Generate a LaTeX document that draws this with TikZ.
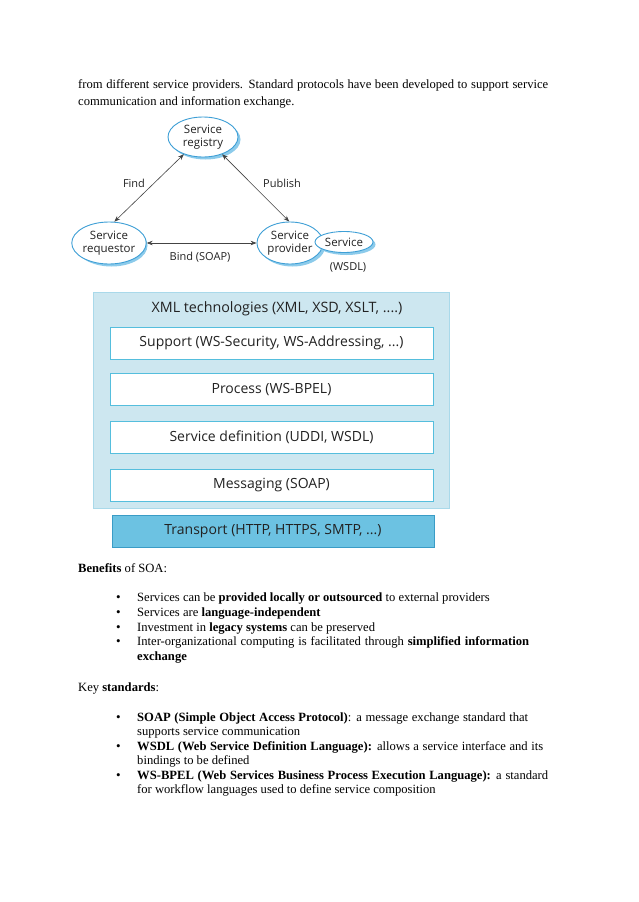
\documentclass[tikz,border=0pt]{standalone}
\usepackage{fontspec}
\setmainfont{Liberation Serif}
\newfontfamily\diagfont{Open Sans}
\usetikzlibrary{shapes.geometric,arrows.meta}
\definecolor{ellblue}{HTML}{3E9FD6}
\definecolor{ellshadow}{HTML}{8CCBEB}
\definecolor{outerfill}{HTML}{CDE7F0}
\definecolor{outerline}{HTML}{A9D9EA}
\definecolor{innerline}{HTML}{55BEDD}
\definecolor{transfill}{HTML}{6CC2E2}
\definecolor{transline}{HTML}{3A9CC6}
\definecolor{arrowgray}{HTML}{444444}
\definecolor{diagtext}{HTML}{222222}
\tikzset{
  ell/.style={ellipse, draw=ellblue, line width=0.9pt, fill=white, inner sep=0pt,
    font=\diagfont\fontsize{11.5}{13.5}\selectfont, align=center, text=diagtext},
  ellsh/.style={ellipse, fill=ellshadow, inner sep=0pt},
  conn/.style={draw=arrowgray, line width=0.6pt, {Stealth[length=6pt,width=4.5pt]}-{Stealth[length=6pt,width=4.5pt]}},
  lbl/.style={font=\diagfont\fontsize{11}{12}\selectfont, text=diagtext},
  outerbox/.style={draw=outerline, line width=1pt, fill=outerfill, minimum width=356pt, minimum height=216pt, inner sep=0pt},
  layerbox/.style={draw=innerline, line width=1pt, fill=white, minimum width=323pt, minimum height=32pt, inner sep=0pt,
    font=\diagfont\fontsize{14}{15}\selectfont, text=diagtext},
  transbox/.style={draw=transline, line width=1pt, fill=transfill, minimum width=322pt, minimum height=32pt, inner sep=0pt,
    font=\diagfont\fontsize{14}{15}\selectfont, text=diagtext},
  body/.style={anchor=base west, inner sep=0pt, font=\fontsize{12.6}{14}\selectfont},
  bul/.style={anchor=base west, inner sep=0pt, font=\fontsize{13}{14}\selectfont},
}
\begin{document}
\begin{tikzpicture}[x=1pt,y=-1pt]
\useasboundingbox[fill=white] (0,0) rectangle (638,902);
% top paragraph
\node[body] (p1) at (78,88) {\makebox[470pt][s]{from different service providers. Standard protocols have been developed to support service}};
\node[body] (p2) at (78,105) {communication and information exchange.};
% triangle diagram
\node[ellsh, minimum width=70pt, minimum height=40pt] at (205.5,139.5) {};
\node[ell, minimum width=70pt, minimum height=40pt] (reg) at (203,137) {Service\\registry};
\node[ellsh, minimum width=72pt, minimum height=42pt] at (111.5,245.5) {};
\node[ell, minimum width=72pt, minimum height=42pt] (req) at (109,243) {Service\\requestor};
\node[ellsh, minimum width=66pt, minimum height=42pt] at (292.5,245.5) {};
\node[ell, minimum width=66pt, minimum height=42pt] (prov) at (290,243) {Service\\provider};
\node[ellsh, minimum width=58pt, minimum height=21pt] at (346.5,244.5) {};
\node[ell, minimum width=58pt, minimum height=21pt] (svc) at (344,242) {Service};
\draw[conn] (reg.222) -- (req.76);
\draw[conn] (reg.318) -- (prov.92);
\draw[conn] (req.east) -- (prov.west);
\node[lbl] (find) at (134,183) {Find};
\node[lbl] (pub) at (282,183) {Publish};
\node[lbl] (bind) at (200,257) {Bind (SOAP)};
\node[lbl] (wsdl) at (348,267) {(WSDL)};
% protocol stack
\node[outerbox] (xml) at (271,400) {};
\node[font=\diagfont\fontsize{14.3}{15}\selectfont, text=diagtext] (xmlt) at (277,309) {XML technologies (XML, XSD, XSLT, ....)};
\node[layerbox] (sup) at (271.5,343) {Support (WS-Security, WS-Addressing, ...)};
\node[layerbox] (proc) at (271.5,389.5) {Process (WS-BPEL)};
\node[layerbox] (sdef) at (271.5,437) {Service definition (UDDI, WSDL)};
\node[layerbox] (msg) at (271.5,485.5) {Messaging (SOAP)};
\node[transbox] (trans) at (273,531) {Transport (HTTP, HTTPS, SMTP, ...)};
% benefits
\node[body] (ben) at (78,572) {\textbf{Benefits} of SOA:};
\node[bul] (b1) at (116,601) {•};
\node[body] (t1) at (137,601) {Services can be \textbf{provided locally or outsourced} to external providers};
\node[bul] (b2) at (116,616) {•};
\node[body] (t2) at (137,616) {Services are \textbf{language-independent}};
\node[bul] (b3) at (116,631) {•};
\node[body] (t3) at (137,631) {Investment in \textbf{legacy systems} can be preserved};
\node[bul] (b4) at (116,645) {•};
\node[body] (t4) at (137,645) {\makebox[392pt][s]{Inter-organizational computing is facilitated through \textbf{simplified information}}};
\node[body] (t4b) at (137,660) {\textbf{exchange}};
% key standards
\node[body] (key) at (78,691) {Key \textbf{standards}:};
\node[bul] (k1) at (116,721) {•};
\node[body] (s1) at (137,721) {\makebox[391pt][s]{\textbf{SOAP (Simple Object Access Protocol)}: a message exchange standard that}};
\node[body] (s1b) at (137,735) {supports service communication};
\node[bul] (k2) at (116,750) {•};
\node[body] (s2) at (137,750) {\makebox[406pt][s]{\textbf{WSDL (Web Service Definition Language):} allows a service interface and its}};
\node[body] (s2b) at (137,764) {bindings to be defined};
\node[bul] (k3) at (116,779) {•};
\node[body] (s3) at (137,779) {\makebox[411pt][s]{\textbf{WS-BPEL (Web Services Business Process Execution Language):} a standard}};
\node[body] (s3b) at (137,793) {for workflow languages used to define service composition};
\end{tikzpicture}
\end{document}
